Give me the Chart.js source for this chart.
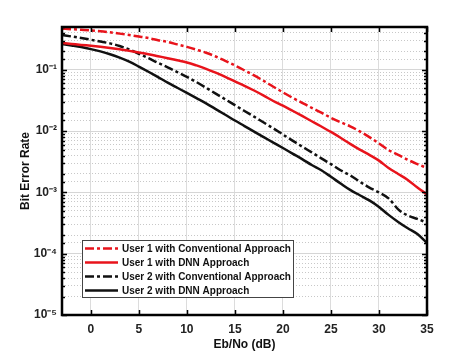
<!DOCTYPE html>
<html><head><meta charset="utf-8">
<script src="https://cdn.jsdelivr.net/npm/chart.js@4/dist/chart.umd.min.js"></script>
<style>html,body{margin:0;padding:0;background:#fff}</style>
</head><body>
<canvas id="c" width="474" height="355" style="display:block"></canvas>
<script>
const ebno = [-3,-2,-1,0,1,2,3,4,5,6,7,8,9,10,11,12,13,14,15,16,17,18,19,20,21,22,23,24,25,26,27,28,29,30,31,32,33,34,35];
const user1Conventional = [0.47,0.46,0.45,0.44,0.425,0.41,0.39,0.37,0.35,0.33,0.305,0.285,0.26,0.237,0.213,0.19,0.165,0.14,0.118,0.098,0.081,0.066,0.053,0.043,0.035,0.029,0.024,0.02,0.0165,0.014,0.012,0.0099,0.008,0.0063,0.0049,0.0041,0.0034,0.0029,0.0025];
const user1DNN = [0.275,0.265,0.255,0.247,0.238,0.228,0.217,0.204,0.192,0.18,0.167,0.155,0.143,0.132,0.118,0.104,0.09,0.077,0.065,0.055,0.046,0.038,0.031,0.026,0.0215,0.0177,0.0145,0.0119,0.0097,0.0078,0.0062,0.005,0.0041,0.0033,0.0025,0.002,0.0016,0.0012,0.00093];
const user2Conventional = [0.37,0.35,0.33,0.31,0.29,0.27,0.245,0.215,0.183,0.155,0.13,0.11,0.092,0.077,0.063,0.051,0.041,0.033,0.0265,0.0213,0.0172,0.0138,0.0111,0.0088,0.007,0.0056,0.0045,0.0036,0.0029,0.0023,0.0019,0.0015,0.0012,0.001,0.0008,0.00053,0.00042,0.00037,0.00032];
const user2DNN = [0.265,0.25,0.235,0.218,0.2,0.18,0.158,0.136,0.113,0.093,0.076,0.062,0.051,0.042,0.0345,0.0283,0.0229,0.0185,0.0149,0.0121,0.0098,0.008,0.0065,0.0053,0.0043,0.0035,0.0028,0.0023,0.0018,0.0014,0.0011,0.0009,0.00074,0.00058,0.00043,0.00033,0.00026,0.00021,0.00015];
const seriesLabels = ['User 1 with Conventional Approach','User 1 with DNN Approach','User 2 with Conventional Approach','User 2 with DNN Approach'];
const xTicks = [0,5,10,15,20,25,30,35];
const yDecades = [1e-5,1e-4,1e-3,1e-2,1e-1];
const yTickLabels = ['10\u207B\u2075','10\u207B\u2074','10\u207B\u00B3','10\u207B\u00B2','10\u207B\u00B9'];

const RED = '#e8131b', BLK = '#111111';
const DASHDOT = [9,3,3,3];
function pts(arr){ return ebno.map((x,i)=>({x:x,y:arr[i]})); }
function isDecade(v){ const l=Math.log10(v); return Math.abs(l-Math.round(l))<1e-6; }

const FONT = "'Liberation Sans', Arial, sans-serif";

const decor = {
  id:'decor',
  afterDraw(chart){
    const ctx=chart.ctx, a=chart.chartArea, xs=chart.scales.x, ys=chart.scales.y;
    ctx.save();
    ctx.strokeStyle='#000'; ctx.lineWidth=1.5;
    ys.ticks.forEach(t=>{
      const y=Math.round(ys.getPixelForValue(t.value))+0.5;
      const L=isDecade(t.value)?5:3;
      ctx.beginPath(); ctx.moveTo(a.left,y); ctx.lineTo(a.left+L,y);
      ctx.moveTo(a.right,y); ctx.lineTo(a.right-L,y); ctx.stroke();
    });
    xs.ticks.forEach(t=>{
      const x=Math.round(xs.getPixelForValue(t.value))+0.5;
      ctx.beginPath(); ctx.moveTo(x,a.bottom); ctx.lineTo(x,a.bottom-5);
      ctx.moveTo(x,a.top); ctx.lineTo(x,a.top+5); ctx.stroke();
    });
    ctx.lineWidth=2.5;
    ctx.strokeRect(a.left,a.top,a.right-a.left,a.bottom-a.top);
    const lx=82, ly=240, lw=211, lh=57;
    ctx.fillStyle='#fff'; ctx.fillRect(lx,ly,lw,lh);
    ctx.lineWidth=1; ctx.strokeStyle='#444';
    ctx.strokeRect(lx+0.5,ly+0.5,lw,lh);
    ctx.font="bold 10px "+FONT; ctx.textBaseline='middle'; ctx.textAlign='left';
    chart.data.datasets.forEach((ds,i)=>{
      const y=ly+8.5+i*14;
      ctx.strokeStyle=ds.borderColor; ctx.lineWidth=2.5; ctx.setLineDash(ds.borderDash||[]);
      ctx.beginPath(); ctx.moveTo(lx+3,y); ctx.lineTo(lx+36,y); ctx.stroke();
      ctx.setLineDash([]);
      ctx.fillStyle='#111'; ctx.fillText(ds.label,lx+40,y+0.5);
    });
    ctx.restore();
  }
};

new Chart(document.getElementById('c'),{
  type:'line',
  data:{datasets:[
    {label:seriesLabels[0],data:pts(user1Conventional),borderColor:RED,borderDash:DASHDOT,borderWidth:2.5},
    {label:seriesLabels[1],data:pts(user1DNN),borderColor:RED,borderWidth:2.5},
    {label:seriesLabels[2],data:pts(user2Conventional),borderColor:BLK,borderDash:DASHDOT,borderWidth:2.5},
    {label:seriesLabels[3],data:pts(user2DNN),borderColor:BLK,borderWidth:2.5}
  ]},
  options:{
    responsive:false, animation:false, devicePixelRatio:1,
    layout:{padding:{left:0,top:27,right:47,bottom:0}},
    elements:{point:{radius:0},line:{tension:0.4,cubicInterpolationMode:'monotone',fill:false}},
    plugins:{legend:{display:false},tooltip:{enabled:false}},
    scales:{
      x:{type:'linear',min:-3,max:35,
        afterBuildTicks(s){ s.ticks = xTicks.map(v=>({value:v})); },
        afterFit(s){ s.height=40; },
        grid:{color:'#dcdcdc',lineWidth:1,drawTicks:false},
        border:{display:false},
        ticks:{padding:7,color:'#222',font:{family:FONT,size:12,weight:'bold'},maxRotation:0,autoSkip:false},
        title:{display:true,text:'Eb/No (dB)',color:'#111',font:{family:FONT,size:12,weight:'bold'},padding:{top:0,bottom:3}}
      },
      y:{type:'logarithmic',min:1e-5,max:0.5,
        afterFit(s){ s.width=62; },
        grid:{drawTicks:false,lineWidth:1,
          color:(c)=> c.tick && isDecade(c.tick.value) ? '#d6d6d6' : '#c8c8c8'},
        border:{display:false,dash:(c)=> c.tick && isDecade(c.tick.value) ? [] : [1,2]},
        ticks:{padding:5,color:'#222',font:{family:FONT,size:12,weight:'bold'},autoSkip:false,
          callback:(v)=>{ const i=yDecades.findIndex(d=>Math.abs(d-v)/d<1e-6); return i>=0?yTickLabels[i]:''; }},
        title:{display:true,text:'Bit Error Rate',color:'#111',font:{family:FONT,size:12,weight:'bold'},padding:{top:18,bottom:0}}
      }
    }
  },
  plugins:[decor]
});
</script>
</body></html>
